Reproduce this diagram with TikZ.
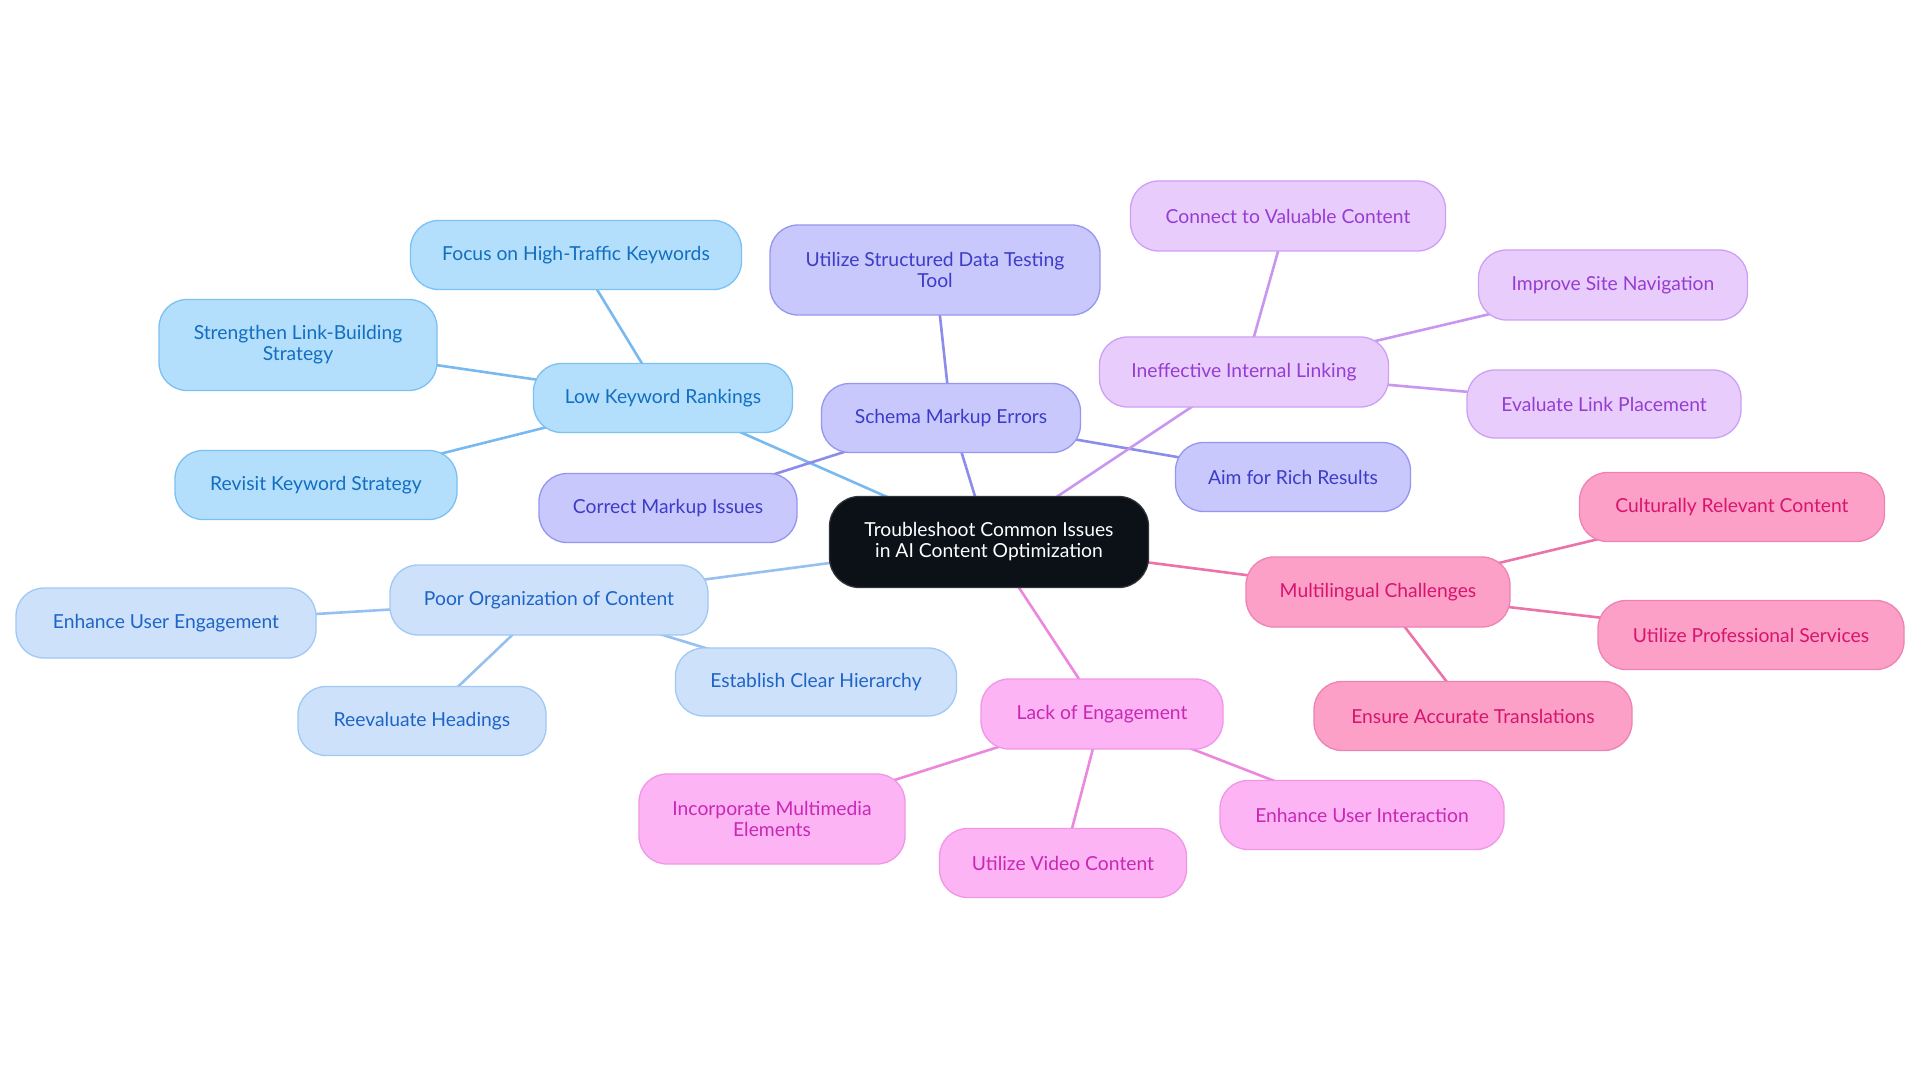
\documentclass[tikz,border=0pt]{standalone}
\usepackage{fontspec}
\setmainfont{Lato}
\usetikzlibrary{shapes.misc,backgrounds}
\definecolor{rootfill}{RGB}{12,17,24}
\definecolor{bAfill}{RGB}{179,223,253}\definecolor{bAdraw}{RGB}{125,192,242}\definecolor{bAtext}{RGB}{18,110,192}\definecolor{bAedge}{RGB}{120,186,240}
\definecolor{bBfill}{RGB}{205,226,250}\definecolor{bBdraw}{RGB}{160,200,245}\definecolor{bBtext}{RGB}{30,100,200}\definecolor{bBedge}{RGB}{150,192,240}
\definecolor{inFill}{RGB}{200,200,252}\definecolor{inDraw}{RGB}{150,150,240}\definecolor{inText}{RGB}{60,60,200}\definecolor{inEdge}{RGB}{140,140,235}
\definecolor{puFill}{RGB}{232,205,252}\definecolor{puDraw}{RGB}{205,160,245}\definecolor{puText}{RGB}{150,60,210}\definecolor{puEdge}{RGB}{200,150,240}
\definecolor{pkFill}{RGB}{252,160,200}\definecolor{pkDraw}{RGB}{238,130,180}\definecolor{pkText}{RGB}{215,20,110}\definecolor{pkEdge}{RGB}{235,115,170}
\definecolor{mgFill}{RGB}{252,180,245}\definecolor{mgDraw}{RGB}{240,150,230}\definecolor{mgText}{RGB}{200,40,180}\definecolor{mgEdge}{RGB}{235,135,220}
\tikzset{
  box/.style={rounded corners=28pt, line width=1.3pt, align=center, inner sep=0pt,
     font=\fontsize{19.3}{21}\selectfont},
  bA/.style={box, fill=bAfill, draw=bAdraw, text=bAtext},
  bB/.style={box, fill=bBfill, draw=bBdraw, text=bBtext},
  inb/.style={box, fill=inFill, draw=inDraw, text=inText},
  pub/.style={box, fill=puFill, draw=puDraw, text=puText},
  pkb/.style={box, fill=pkFill, draw=pkDraw, text=pkText},
  mgb/.style={box, fill=mgFill, draw=mgDraw, text=mgText},
  rootb/.style={box, rounded corners=30pt, fill=rootfill, draw=rootfill!70!gray, text=white},
  ed/.style={line width=2.6pt},
}
\newcommand{\bx}[6]{\node[#1, minimum width=#4pt, minimum height=#5pt] (#2) at (#3) {#6};}
\begin{document}
\begin{tikzpicture}[x=1pt,y=-1pt]
\useasboundingbox (0,0) rectangle (1920,1083);
% root
\bx{rootb}{root}{989,542}{319}{91}{Troubleshoot Common Issues\\in AI Content Optimization}
% blue A
\bx{bA}{lkr}{663,398}{259}{69}{Low Keyword Rankings}
\bx{bA}{focus}{576,255}{331}{69}{Focus on High-Traffic Keywords}
\bx{bA}{streng}{298,345}{278}{91}{Strengthen Link-Building\\Strategy}
\bx{bA}{revisit}{316,485}{282}{69}{Revisit Keyword Strategy}
% indigo
\bx{inb}{schema}{951,418}{259}{69}{Schema Markup Errors}
\bx{inb}{structured}{935,270}{330}{90}{Utilize Structured Data Testing\\Tool}
\bx{inb}{correct}{668,508}{258}{69}{Correct Markup Issues}
\bx{inb}{rich}{1293,477}{235}{69}{Aim for Rich Results}
% purple
\bx{pub}{ineff}{1244,372}{289}{70}{Ineffective Internal Linking}
\bx{pub}{connect}{1288,216}{315}{70}{Connect to Valuable Content}
\bx{pub}{navig}{1613,285}{269}{70}{Improve Site Navigation}
\bx{pub}{evalu}{1604,404}{274}{68}{Evaluate Link Placement}
% pink
\bx{pkb}{multi}{1378,592}{264}{70}{Multilingual Challenges}
\bx{pkb}{cultur}{1732,507}{305}{69}{Culturally Relevant Content}
\bx{pkb}{profes}{1751,635}{306}{69}{Utilize Professional Services}
\bx{pkb}{ensure}{1473,716}{318}{69}{Ensure Accurate Translations}
% magenta
\bx{mgb}{lack}{1102,714}{242}{70}{Lack of Engagement}
\bx{mgb}{multim}{772,819}{266}{90}{Incorporate Multimedia\\Elements}
\bx{mgb}{video}{1063,863}{247}{69}{Utilize Video Content}
\bx{mgb}{interact}{1362,815}{284}{69}{Enhance User Interaction}
% blue B
\bx{bB}{poor}{549,600}{318}{70}{Poor Organization of Content}
\bx{bB}{engage}{166,623}{300}{70}{Enhance User Engagement}
\bx{bB}{hier}{816,682}{281}{68}{Establish Clear Hierarchy}
\bx{bB}{heads}{422,721}{248}{69}{Reevaluate Headings}
\begin{scope}[on background layer]
\fill[white] (0,0) rectangle (1920,1083);
\draw[ed, bAedge] (root.center) -- (lkr.center);
\draw[ed, bAedge] (lkr.center) -- (focus.center);
\draw[ed, bAedge] (lkr.center) -- (streng.center);
\draw[ed, bAedge] (lkr.center) -- (revisit.center);
\draw[ed, inEdge] (root.center) -- (schema.center);
\draw[ed, inEdge] (schema.center) -- (structured.center);
\draw[ed, inEdge] (schema.center) -- (correct.center);
\draw[ed, inEdge] (schema.center) -- (rich.center);
\draw[ed, puEdge] (root.center) -- (ineff.center);
\draw[ed, puEdge] (ineff.center) -- (connect.center);
\draw[ed, puEdge] (ineff.center) -- (navig.center);
\draw[ed, puEdge] (ineff.center) -- (evalu.center);
\draw[ed, pkEdge] (root.center) -- (multi.center);
\draw[ed, pkEdge] (multi.center) -- (cultur.center);
\draw[ed, pkEdge] (multi.center) -- (profes.center);
\draw[ed, pkEdge] (multi.center) -- (ensure.center);
\draw[ed, mgEdge] (root.center) -- (lack.center);
\draw[ed, mgEdge] (lack.center) -- (multim.center);
\draw[ed, mgEdge] (lack.center) -- (video.center);
\draw[ed, mgEdge] (lack.center) -- (interact.center);
\draw[ed, bBedge] (root.center) -- (poor.center);
\draw[ed, bBedge] (poor.center) -- (engage.center);
\draw[ed, bBedge] (poor.center) -- (hier.center);
\draw[ed, bBedge] (poor.center) -- (heads.center);
\end{scope}
\end{tikzpicture}
\end{document}
